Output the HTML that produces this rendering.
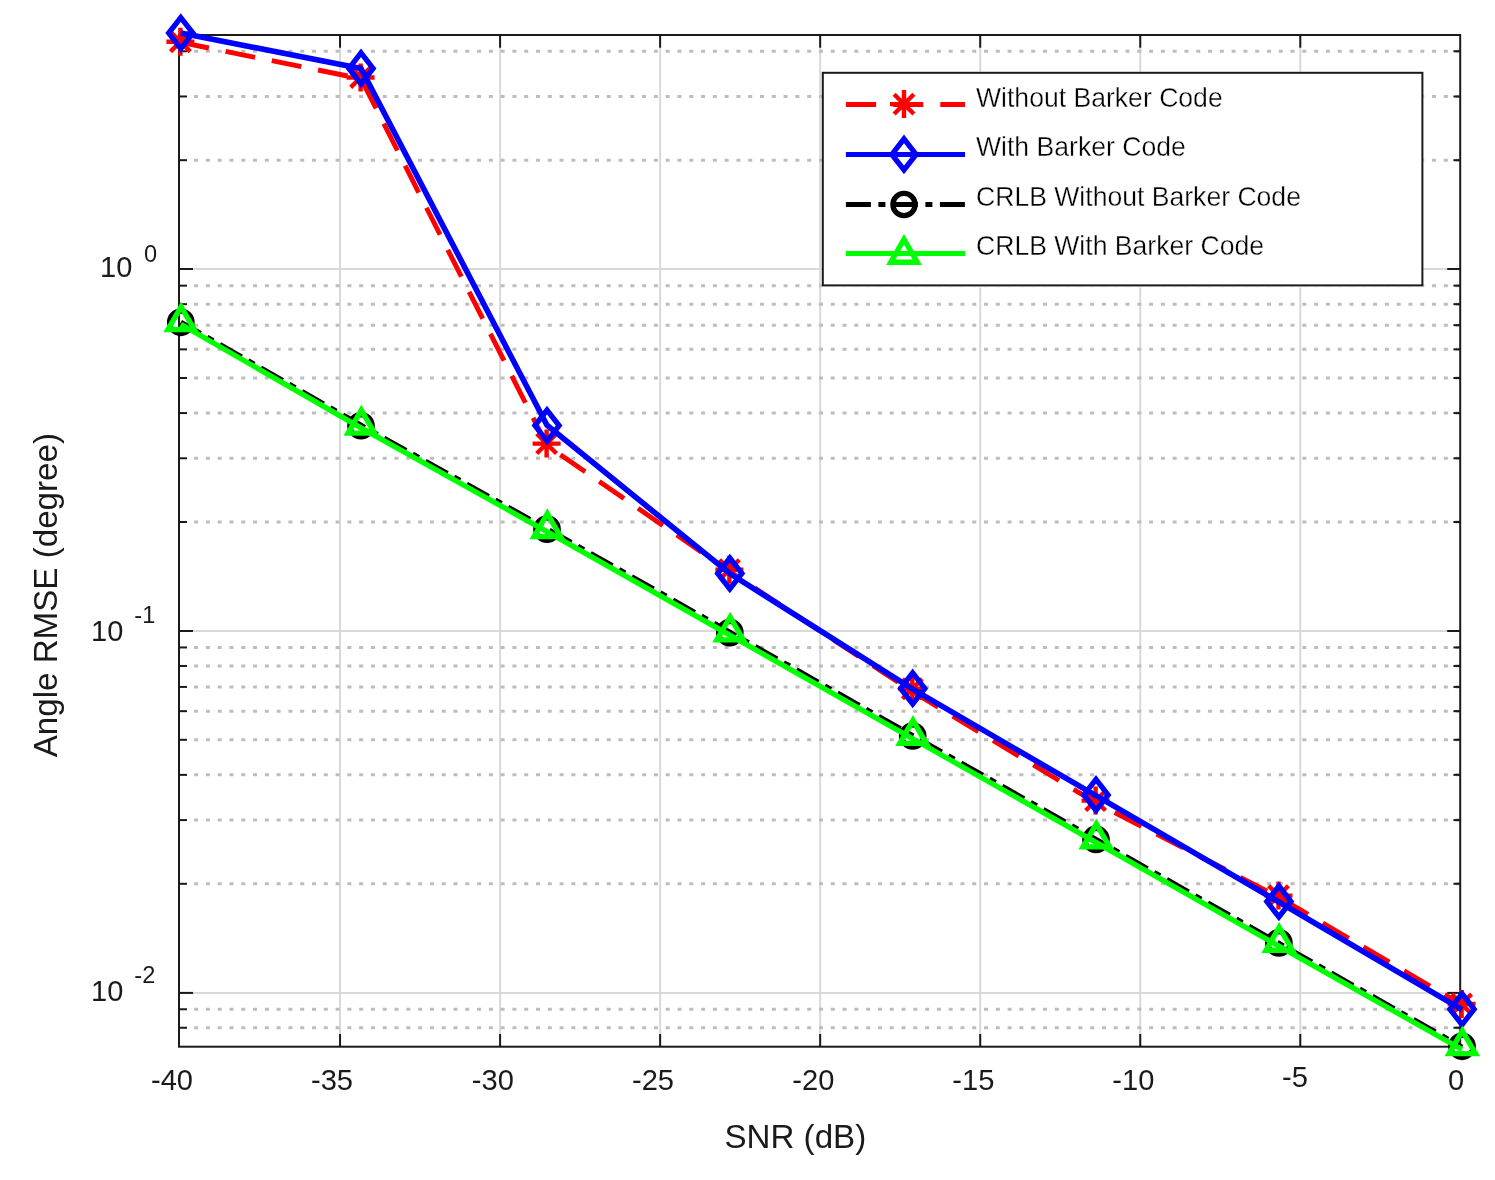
<!DOCTYPE html>
<html lang="en"><head><meta charset="utf-8"><title>Angle RMSE vs SNR</title>
<style>html,body{margin:0;padding:0;background:#fff}body{width:1495px;height:1180px;overflow:hidden}svg{shape-rendering:auto}</style></head>
<body>
<svg width="1495" height="1180" viewBox="0 0 1495 1180" style="display:block">
<rect x="0" y="0" width="1495" height="1180" fill="#fff"/>
<defs><clipPath id="gc"><path clip-rule="evenodd" d="M0 0H1495V1180H0Z M821.8 71.8H1423.4V287.6H821.8Z"/></clipPath></defs>
<g id="grid" fill="none" clip-path="url(#gc)">
<line x1="340.04" y1="35.0" x2="340.04" y2="1046.7" stroke="#d9d9d9" stroke-width="2"/>
<line x1="500.08" y1="35.0" x2="500.08" y2="1046.7" stroke="#d9d9d9" stroke-width="2"/>
<line x1="660.12" y1="35.0" x2="660.12" y2="1046.7" stroke="#d9d9d9" stroke-width="2"/>
<line x1="820.16" y1="35.0" x2="820.16" y2="1046.7" stroke="#d9d9d9" stroke-width="2"/>
<line x1="980.20" y1="35.0" x2="980.20" y2="1046.7" stroke="#d9d9d9" stroke-width="2"/>
<line x1="1140.24" y1="35.0" x2="1140.24" y2="1046.7" stroke="#d9d9d9" stroke-width="2"/>
<line x1="1300.28" y1="35.0" x2="1300.28" y2="1046.7" stroke="#d9d9d9" stroke-width="2"/>
<line x1="179.0" y1="269.0" x2="1460.2" y2="269.0" stroke="#d9d9d9" stroke-width="2"/>
<line x1="179.0" y1="631.0" x2="1460.2" y2="631.0" stroke="#d9d9d9" stroke-width="2"/>
<line x1="179.0" y1="992.9" x2="1460.2" y2="992.9" stroke="#d9d9d9" stroke-width="2"/>
<line x1="194.1" y1="160.19" x2="1459.2" y2="160.19" stroke="#bdbdbd" stroke-width="3" stroke-dasharray="4 7.79"/>
<line x1="194.1" y1="96.48" x2="1459.2" y2="96.48" stroke="#bdbdbd" stroke-width="3" stroke-dasharray="4 7.79"/>
<line x1="194.1" y1="51.27" x2="1459.2" y2="51.27" stroke="#bdbdbd" stroke-width="3" stroke-dasharray="4 7.79"/>
<line x1="194.1" y1="521.99" x2="1459.2" y2="521.99" stroke="#bdbdbd" stroke-width="3" stroke-dasharray="4 7.79"/>
<line x1="194.1" y1="458.28" x2="1459.2" y2="458.28" stroke="#bdbdbd" stroke-width="3" stroke-dasharray="4 7.79"/>
<line x1="194.1" y1="413.07" x2="1459.2" y2="413.07" stroke="#bdbdbd" stroke-width="3" stroke-dasharray="4 7.79"/>
<line x1="194.1" y1="378.01" x2="1459.2" y2="378.01" stroke="#bdbdbd" stroke-width="3" stroke-dasharray="4 7.79"/>
<line x1="194.1" y1="349.36" x2="1459.2" y2="349.36" stroke="#bdbdbd" stroke-width="3" stroke-dasharray="4 7.79"/>
<line x1="194.1" y1="325.14" x2="1459.2" y2="325.14" stroke="#bdbdbd" stroke-width="3" stroke-dasharray="4 7.79"/>
<line x1="194.1" y1="304.16" x2="1459.2" y2="304.16" stroke="#bdbdbd" stroke-width="3" stroke-dasharray="4 7.79"/>
<line x1="194.1" y1="285.66" x2="1459.2" y2="285.66" stroke="#bdbdbd" stroke-width="3" stroke-dasharray="4 7.79"/>
<line x1="194.1" y1="883.79" x2="1459.2" y2="883.79" stroke="#bdbdbd" stroke-width="3" stroke-dasharray="4 7.79"/>
<line x1="194.1" y1="820.08" x2="1459.2" y2="820.08" stroke="#bdbdbd" stroke-width="3" stroke-dasharray="4 7.79"/>
<line x1="194.1" y1="774.87" x2="1459.2" y2="774.87" stroke="#bdbdbd" stroke-width="3" stroke-dasharray="4 7.79"/>
<line x1="194.1" y1="739.81" x2="1459.2" y2="739.81" stroke="#bdbdbd" stroke-width="3" stroke-dasharray="4 7.79"/>
<line x1="194.1" y1="711.16" x2="1459.2" y2="711.16" stroke="#bdbdbd" stroke-width="3" stroke-dasharray="4 7.79"/>
<line x1="194.1" y1="686.94" x2="1459.2" y2="686.94" stroke="#bdbdbd" stroke-width="3" stroke-dasharray="4 7.79"/>
<line x1="194.1" y1="665.96" x2="1459.2" y2="665.96" stroke="#bdbdbd" stroke-width="3" stroke-dasharray="4 7.79"/>
<line x1="194.1" y1="647.46" x2="1459.2" y2="647.46" stroke="#bdbdbd" stroke-width="3" stroke-dasharray="4 7.79"/>
<line x1="194.1" y1="1027.76" x2="1459.2" y2="1027.76" stroke="#bdbdbd" stroke-width="3" stroke-dasharray="4 7.79"/>
<line x1="194.1" y1="1009.26" x2="1459.2" y2="1009.26" stroke="#bdbdbd" stroke-width="3" stroke-dasharray="4 7.79"/>
</g>
<g id="axes" stroke="#1a1a1a" stroke-width="2" fill="none">
<rect x="179.0" y="35.0" width="1281.2" height="1011.7"/>
<line x1="340.04" y1="35.0" x2="340.04" y2="47.7"/>
<line x1="340.04" y1="1046.7" x2="340.04" y2="1034"/>
<line x1="500.08" y1="35.0" x2="500.08" y2="47.7"/>
<line x1="500.08" y1="1046.7" x2="500.08" y2="1034"/>
<line x1="660.12" y1="35.0" x2="660.12" y2="47.7"/>
<line x1="660.12" y1="1046.7" x2="660.12" y2="1034"/>
<line x1="820.16" y1="35.0" x2="820.16" y2="47.7"/>
<line x1="820.16" y1="1046.7" x2="820.16" y2="1034"/>
<line x1="980.20" y1="35.0" x2="980.20" y2="47.7"/>
<line x1="980.20" y1="1046.7" x2="980.20" y2="1034"/>
<line x1="1140.24" y1="35.0" x2="1140.24" y2="47.7"/>
<line x1="1140.24" y1="1046.7" x2="1140.24" y2="1034"/>
<line x1="1300.28" y1="35.0" x2="1300.28" y2="47.7"/>
<line x1="1300.28" y1="1046.7" x2="1300.28" y2="1034"/>
<line x1="179.0" y1="269.0" x2="193" y2="269.0"/>
<line x1="1460.2" y1="269.0" x2="1447.2" y2="269.0"/>
<line x1="179.0" y1="631.0" x2="193" y2="631.0"/>
<line x1="1460.2" y1="631.0" x2="1447.2" y2="631.0"/>
<line x1="179.0" y1="992.9" x2="193" y2="992.9"/>
<line x1="1460.2" y1="992.9" x2="1447.2" y2="992.9"/>
<line x1="179.0" y1="160.19" x2="187" y2="160.19"/>
<line x1="1460.2" y1="160.19" x2="1453.4" y2="160.19"/>
<line x1="179.0" y1="96.48" x2="187" y2="96.48"/>
<line x1="1460.2" y1="96.48" x2="1453.4" y2="96.48"/>
<line x1="179.0" y1="51.27" x2="187" y2="51.27"/>
<line x1="1460.2" y1="51.27" x2="1453.4" y2="51.27"/>
<line x1="179.0" y1="521.99" x2="187" y2="521.99"/>
<line x1="1460.2" y1="521.99" x2="1453.4" y2="521.99"/>
<line x1="179.0" y1="458.28" x2="187" y2="458.28"/>
<line x1="1460.2" y1="458.28" x2="1453.4" y2="458.28"/>
<line x1="179.0" y1="413.07" x2="187" y2="413.07"/>
<line x1="1460.2" y1="413.07" x2="1453.4" y2="413.07"/>
<line x1="179.0" y1="378.01" x2="187" y2="378.01"/>
<line x1="1460.2" y1="378.01" x2="1453.4" y2="378.01"/>
<line x1="179.0" y1="349.36" x2="187" y2="349.36"/>
<line x1="1460.2" y1="349.36" x2="1453.4" y2="349.36"/>
<line x1="179.0" y1="325.14" x2="187" y2="325.14"/>
<line x1="1460.2" y1="325.14" x2="1453.4" y2="325.14"/>
<line x1="179.0" y1="304.16" x2="187" y2="304.16"/>
<line x1="1460.2" y1="304.16" x2="1453.4" y2="304.16"/>
<line x1="179.0" y1="285.66" x2="187" y2="285.66"/>
<line x1="1460.2" y1="285.66" x2="1453.4" y2="285.66"/>
<line x1="179.0" y1="883.79" x2="187" y2="883.79"/>
<line x1="1460.2" y1="883.79" x2="1453.4" y2="883.79"/>
<line x1="179.0" y1="820.08" x2="187" y2="820.08"/>
<line x1="1460.2" y1="820.08" x2="1453.4" y2="820.08"/>
<line x1="179.0" y1="774.87" x2="187" y2="774.87"/>
<line x1="1460.2" y1="774.87" x2="1453.4" y2="774.87"/>
<line x1="179.0" y1="739.81" x2="187" y2="739.81"/>
<line x1="1460.2" y1="739.81" x2="1453.4" y2="739.81"/>
<line x1="179.0" y1="711.16" x2="187" y2="711.16"/>
<line x1="1460.2" y1="711.16" x2="1453.4" y2="711.16"/>
<line x1="179.0" y1="686.94" x2="187" y2="686.94"/>
<line x1="1460.2" y1="686.94" x2="1453.4" y2="686.94"/>
<line x1="179.0" y1="665.96" x2="187" y2="665.96"/>
<line x1="1460.2" y1="665.96" x2="1453.4" y2="665.96"/>
<line x1="179.0" y1="647.46" x2="187" y2="647.46"/>
<line x1="1460.2" y1="647.46" x2="1453.4" y2="647.46"/>
<line x1="179.0" y1="1027.76" x2="187" y2="1027.76"/>
<line x1="1460.2" y1="1027.76" x2="1453.4" y2="1027.76"/>
<line x1="179.0" y1="1009.26" x2="187" y2="1009.26"/>
<line x1="1460.2" y1="1009.26" x2="1453.4" y2="1009.26"/>
</g>
<g id="data" fill="none">
<polyline points="180.8,42.3 361.0,78.7 547.0,445.4 729.8,571.7 912.7,691.8 1096.0,802.9 1278.9,897.2 1462.0,1004.9" stroke="#f00" stroke-width="4.9" stroke-dasharray="30.1 17.04" stroke-dashoffset="1.44"/>
<path d="M166.40 41.70H194.40M180.40 27.70V55.70M170.50 31.80L190.30 51.60M170.50 51.60L190.30 31.80" stroke="#f00" stroke-width="4.4" fill="none"/>
<path d="M346.60 77.50H374.60M360.60 63.50V91.50M350.70 67.60L370.50 87.40M350.70 87.40L370.50 67.60" stroke="#f00" stroke-width="4.4" fill="none"/>
<path d="M532.60 443.60H560.60M546.60 429.60V457.60M536.70 433.70L556.50 453.50M536.70 453.50L556.50 433.70" stroke="#f00" stroke-width="4.4" fill="none"/>
<path d="M715.40 569.70H743.40M729.40 555.70V583.70M719.50 559.80L739.30 579.60M719.50 579.60L739.30 559.80" stroke="#f00" stroke-width="4.4" fill="none"/>
<path d="M898.30 688.80H926.30M912.30 674.80V702.80M902.40 678.90L922.20 698.70M902.40 698.70L922.20 678.90" stroke="#f00" stroke-width="4.4" fill="none"/>
<path d="M1081.60 800.60H1109.60M1095.60 786.60V814.60M1085.70 790.70L1105.50 810.50M1085.70 810.50L1105.50 790.70" stroke="#f00" stroke-width="4.4" fill="none"/>
<path d="M1264.50 895.60H1292.50M1278.50 881.60V909.60M1268.60 885.70L1288.40 905.50M1268.60 905.50L1288.40 885.70" stroke="#f00" stroke-width="4.4" fill="none"/>
<path d="M1447.60 1004.00H1475.60M1461.60 990.00V1018.00M1451.70 994.10L1471.50 1013.90M1451.70 1013.90L1471.50 994.10" stroke="#f00" stroke-width="4.4" fill="none"/>
<polyline points="180.8,33.1 361.0,68.4 547.0,425.3 729.8,573.5 912.7,689.2 1096.0,795.7 1278.9,902.0 1462.0,1009.7" stroke="#00f" stroke-width="5.6" stroke-linejoin="miter"/>
<path d="M180.80 17.60L192.90 33.10L180.80 48.60L168.70 33.10Z" stroke="#00f" stroke-width="5.3" fill="none" stroke-miterlimit="10"/>
<path d="M361.00 52.90L373.10 68.40L361.00 83.90L348.90 68.40Z" stroke="#00f" stroke-width="5.3" fill="none" stroke-miterlimit="10"/>
<path d="M547.00 410.10L559.10 425.60L547.00 441.10L534.90 425.60Z" stroke="#00f" stroke-width="5.3" fill="none" stroke-miterlimit="10"/>
<path d="M729.80 558.00L741.90 573.50L729.80 589.00L717.70 573.50Z" stroke="#00f" stroke-width="5.3" fill="none" stroke-miterlimit="10"/>
<path d="M912.70 672.90L924.80 688.40L912.70 703.90L900.60 688.40Z" stroke="#00f" stroke-width="5.3" fill="none" stroke-miterlimit="10"/>
<path d="M1096.00 779.40L1108.10 794.90L1096.00 810.40L1083.90 794.90Z" stroke="#00f" stroke-width="5.3" fill="none" stroke-miterlimit="10"/>
<path d="M1278.90 886.00L1291.00 901.50L1278.90 917.00L1266.80 901.50Z" stroke="#00f" stroke-width="5.3" fill="none" stroke-miterlimit="10"/>
<path d="M1462.00 993.70L1474.10 1009.20L1462.00 1024.70L1449.90 1009.20Z" stroke="#00f" stroke-width="5.3" fill="none" stroke-miterlimit="10"/>
<polyline points="180.8,322.2 361.0,425.4 547.0,528.9 729.8,632.3 912.7,735.7 1096.0,839.5 1278.9,943.4 1462.0,1047.2" stroke="#000" stroke-width="5.3" stroke-dasharray="25.15 7.55 7 7.59" stroke-dashoffset="2.4"/>
<circle cx="180.80" cy="322.30" r="11.2" stroke="#000" stroke-width="5.3" fill="none"/>
<circle cx="361.00" cy="425.73" r="11.2" stroke="#000" stroke-width="5.3" fill="none"/>
<circle cx="547.00" cy="529.16" r="11.2" stroke="#000" stroke-width="5.3" fill="none"/>
<circle cx="729.80" cy="632.59" r="11.2" stroke="#000" stroke-width="5.3" fill="none"/>
<circle cx="912.70" cy="736.02" r="11.2" stroke="#000" stroke-width="5.3" fill="none"/>
<circle cx="1096.00" cy="839.45" r="11.2" stroke="#000" stroke-width="5.3" fill="none"/>
<circle cx="1278.90" cy="942.88" r="11.2" stroke="#000" stroke-width="5.3" fill="none"/>
<circle cx="1462.00" cy="1046.31" r="11.2" stroke="#000" stroke-width="5.3" fill="none"/>
<polyline points="180.8,324.3 361.0,427.9 547.0,531.6 729.8,635.1 912.7,738.7 1096.0,842.4 1278.9,946.1 1462.0,1049.5" stroke="#0f0" stroke-width="5.3"/>
<path d="M181.10 306.70L194.35 329.65L167.85 329.65Z" stroke="#0f0" stroke-width="5.3" fill="none" stroke-miterlimit="10"/>
<path d="M361.30 410.13L374.55 433.08L348.05 433.08Z" stroke="#0f0" stroke-width="5.3" fill="none" stroke-miterlimit="10"/>
<path d="M547.30 513.56L560.55 536.51L534.05 536.51Z" stroke="#0f0" stroke-width="5.3" fill="none" stroke-miterlimit="10"/>
<path d="M730.10 616.99L743.35 639.94L716.85 639.94Z" stroke="#0f0" stroke-width="5.3" fill="none" stroke-miterlimit="10"/>
<path d="M913.00 720.42L926.25 743.37L899.75 743.37Z" stroke="#0f0" stroke-width="5.3" fill="none" stroke-miterlimit="10"/>
<path d="M1096.30 823.85L1109.55 846.80L1083.05 846.80Z" stroke="#0f0" stroke-width="5.3" fill="none" stroke-miterlimit="10"/>
<path d="M1279.20 927.28L1292.45 950.23L1265.95 950.23Z" stroke="#0f0" stroke-width="5.3" fill="none" stroke-miterlimit="10"/>
<path d="M1462.30 1030.71L1475.55 1053.66L1449.05 1053.66Z" stroke="#0f0" stroke-width="5.3" fill="none" stroke-miterlimit="10"/>
</g>
<g id="legend">
<rect x="822.8" y="72.8" width="599.6" height="212.6" fill="#fff" stroke="#1a1a1a" stroke-width="2"/>
<line x1="845.9" y1="104.4" x2="965.0" y2="104.4" stroke="#f00" stroke-width="5" stroke-dasharray="30.2 17"/>
<path d="M890.00 104.10H918.00M904.00 90.10V118.10M894.10 94.20L913.90 114.00M894.10 114.00L913.90 94.20" stroke="#f00" stroke-width="4.4" fill="none"/>
<line x1="845.9" y1="154.5" x2="965.0" y2="154.5" stroke="#00f" stroke-width="5"/>
<path d="M904.00 138.90L916.10 154.40L904.00 169.90L891.90 154.40Z" stroke="#00f" stroke-width="5.3" fill="none" stroke-miterlimit="10"/>
<line x1="845.9" y1="204.4" x2="965.0" y2="204.4" stroke="#000" stroke-width="5" stroke-dasharray="25 7.5 7 7.5"/>
<circle cx="904.00" cy="204.50" r="11.1" stroke="#000" stroke-width="5.3" fill="none"/>
<line x1="845.9" y1="253.6" x2="965.0" y2="253.6" stroke="#0f0" stroke-width="5"/>
<path d="M904.00 239.30L917.25 262.25L890.75 262.25Z" stroke="#0f0" stroke-width="5.3" fill="none" stroke-miterlimit="10"/>
</g>
<g id="text" font-family="Liberation Sans, Arial, Helvetica, sans-serif" fill="#1a1a1a">
<text transform="translate(976.00 106.60) scale(0.9460 1)" font-size="28.1" fill="#000" stroke="#fff" stroke-width="0.35">Without Barker Code</text>
<text transform="translate(976.00 156.00) scale(0.9460 1)" font-size="28.1" fill="#000" stroke="#fff" stroke-width="0.35">With Barker Code</text>
<text transform="translate(976.00 205.60) scale(0.9460 1)" font-size="28.1" fill="#000" stroke="#fff" stroke-width="0.35">CRLB Without Barker Code</text>
<text transform="translate(976.00 255.00) scale(0.9460 1)" font-size="28.1" fill="#000" stroke="#fff" stroke-width="0.35">CRLB With Barker Code</text>
<text transform="translate(151.00 1090.00) scale(0.9570 1)" font-size="30.4">-40</text>
<text transform="translate(311.00 1090.00) scale(0.9570 1)" font-size="30.4">-35</text>
<text transform="translate(471.80 1090.00) scale(0.9570 1)" font-size="30.4">-30</text>
<text transform="translate(632.00 1090.00) scale(0.9570 1)" font-size="30.4">-25</text>
<text transform="translate(792.30 1090.00) scale(0.9570 1)" font-size="30.4">-20</text>
<text transform="translate(952.30 1090.00) scale(0.9570 1)" font-size="30.4">-15</text>
<text transform="translate(1112.30 1090.40) scale(0.9570 1)" font-size="30.4">-10</text>
<text transform="translate(1282.00 1086.70) scale(0.9570 1)" font-size="30.4">-5</text>
<text transform="translate(1447.90 1090.40) scale(0.9570 1)" font-size="30.4">0</text>
<text transform="translate(100.10 277.00) scale(0.9550 1)" font-size="30.4">10</text>
<text transform="translate(144.00 262.10) scale(0.9550 1)" font-size="24.7">0</text>
<text transform="translate(91.00 641.00) scale(0.9550 1)" font-size="30.4">10</text>
<text transform="translate(134.30 622.90) scale(0.9550 1)" font-size="24.7">-1</text>
<text transform="translate(91.00 1001.00) scale(0.9550 1)" font-size="30.4">10</text>
<text transform="translate(134.30 982.90) scale(0.9550 1)" font-size="24.7">-2</text>
<text transform="translate(724.50 1148.40) scale(0.9800 1)" font-size="33.8">SNR (dB)</text>
<text transform="translate(57.10 757.30) rotate(-90) scale(0.9810 1)" font-size="33.8">Angle RMSE (degree)</text>
</g>
</svg>
</body></html>
